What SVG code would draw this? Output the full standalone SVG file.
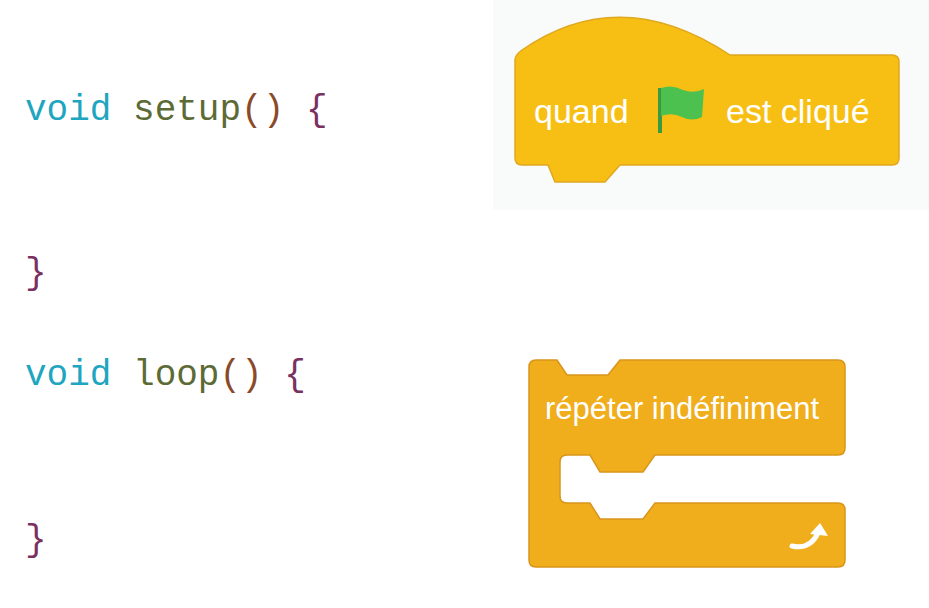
<svg xmlns="http://www.w3.org/2000/svg" width="929" height="608" viewBox="0 0 929 608">
<style>
.c{font-family:"Liberation Mono",monospace;font-size:36px}
.k{fill:#1ea5c0}.f{fill:#5c6b35}.p{fill:#8a4a2a}.b{fill:#7a3060}
.w{font-family:"Liberation Sans",Arial,sans-serif;fill:#fff}
</style>
<rect width="929" height="608" fill="#fff"/>
<g id="code">
<text class="c" x="25" y="120"><tspan class="k">void</tspan> <tspan class="f">setup</tspan><tspan class="p">()</tspan> <tspan class="b">{</tspan></text>
<text class="c b" x="25" y="283">}</text>
<text class="c" x="25" y="385"><tspan class="k">void</tspan> <tspan class="f">loop</tspan><tspan class="p">()</tspan> <tspan class="b">{</tspan></text>
<text class="c b" x="25" y="550">}</text>
</g>
<g id="hat">
<rect x="493" y="0" width="436" height="210" fill="#f9fbfb"/>
<path d="M515,60 Q515,55 522,50 Q620,-18 730,55 L892,55 Q899,55 899,62 L899,158 Q899,165 892,165 L620,165 L605,182 L555,182 L548,165 L522,165 Q515,165 515,158 Z" fill="#f7bf14" stroke="#e0a820" stroke-width="1.5"/>
<text class="w" x="534" y="123" font-size="34">quand</text>
<path d="M660,88 L660,133" stroke="#3a9a40" stroke-width="4"/>
<path d="M661,88 Q672,84 683,90 Q694,94 704,89 L702,117 Q692,122 682,117 Q672,112 661,116 Z" fill="#4cc14f"/>
<text class="w" x="726" y="123" font-size="34">est cliqué</text>
</g>
<g id="repeat">
<path d="M529,367 Q529,360 536,360 L557,360 L567,375 L608,375 L620,360 L838,360 Q845,360 845,367 L845,448 Q845,455 838,455 L655,455 L643,472 L600,472 L590,455 L567,455 Q560,455 560,462 L560,496 Q560,503 567,503 L590,503 L600,519 L643,519 L655,503 L838,503 Q845,503 845,510 L845,560 Q845,567 838,567 L536,567 Q529,567 529,560 Z" fill="#f0ad1c" stroke="#d9951a" stroke-width="1.5"/>
<text class="w" x="545" y="419" font-size="31">répéter indéfiniment</text>
<path d="M792,546 Q810,550 818,533" stroke="#fff" stroke-width="5" fill="none" stroke-linecap="round"/>
<path d="M810,534 L820,523 L828,536 Z" fill="#fff"/>
</g>
</svg>
